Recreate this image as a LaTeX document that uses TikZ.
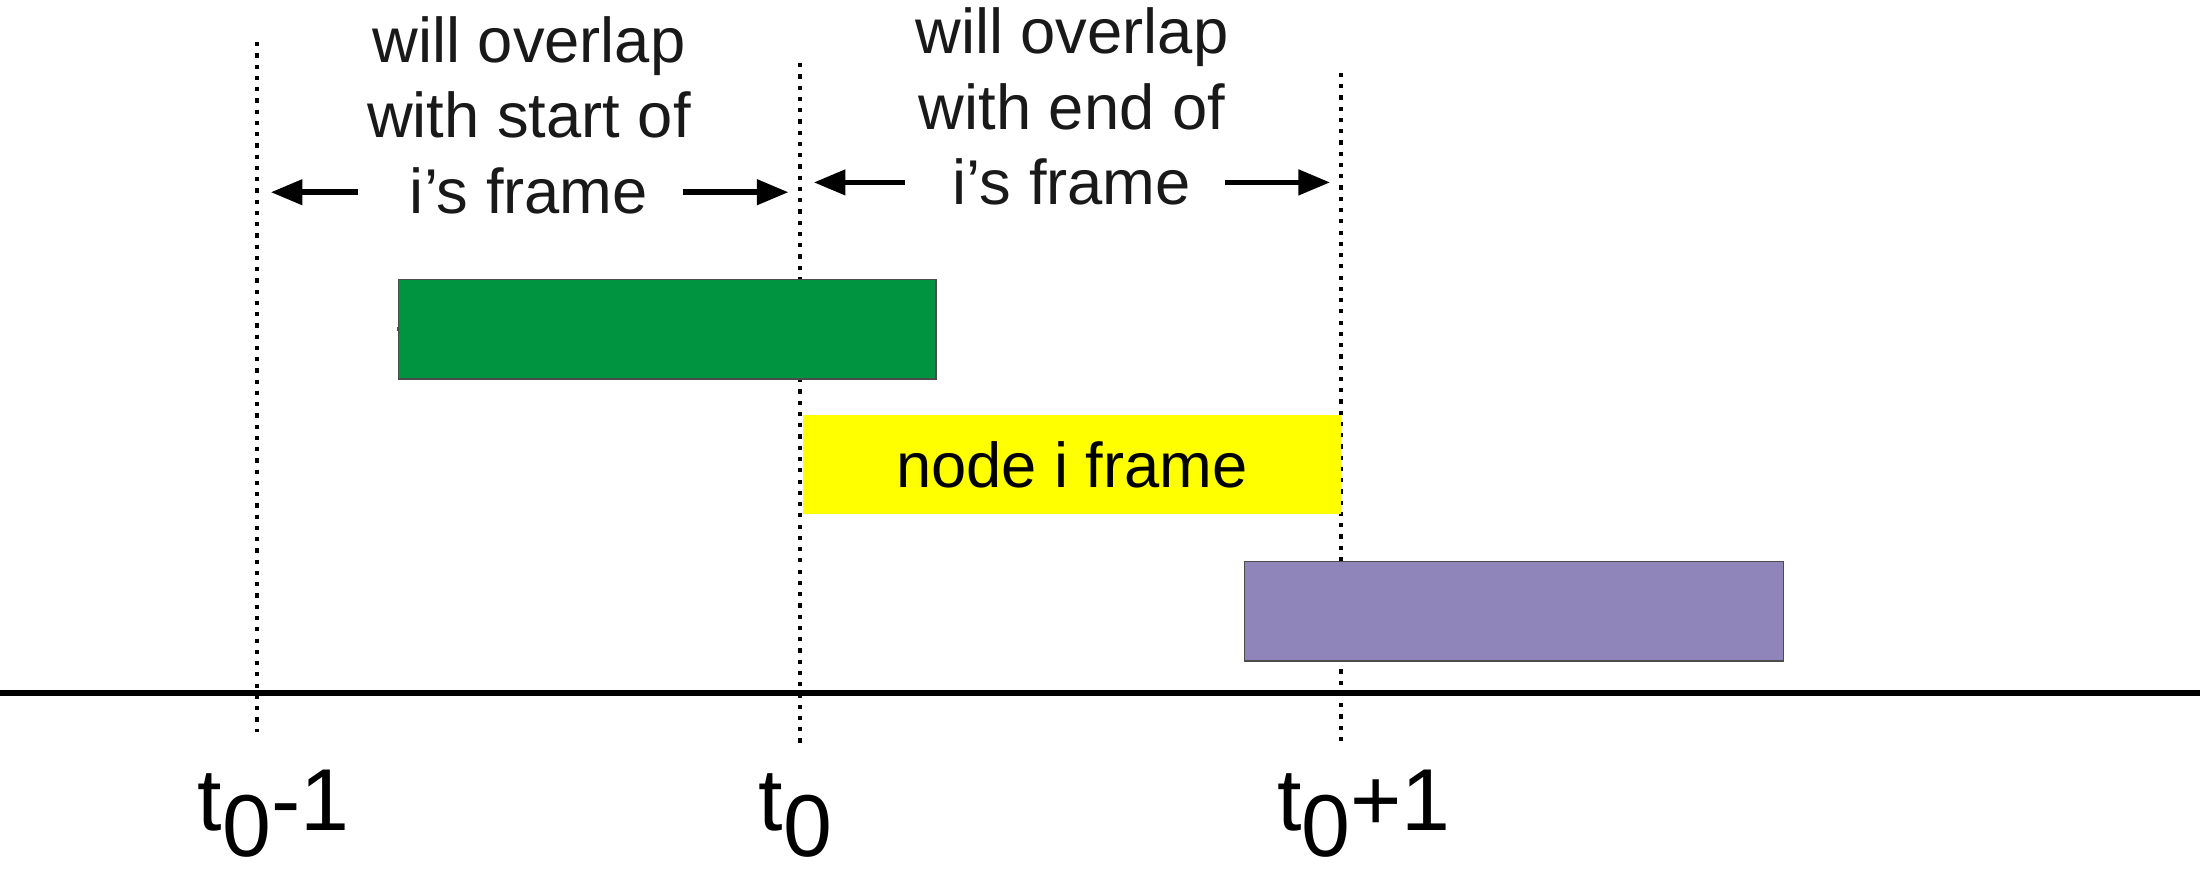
\documentclass[tikz,border=0pt]{standalone}
\usepackage{fontspec}
\setmainfont{Liberation Sans}
\usetikzlibrary{arrows.meta}
\definecolor{gr}{HTML}{009440}
\definecolor{ye}{HTML}{FFFF00}
\definecolor{pu}{HTML}{9085BA}
\begin{document}
\begin{tikzpicture}[x=0.01403cm,y=-0.01403cm,
  dot/.style={line width=1.2pt,dotted},
  bar/.style={draw=black!70,line width=0.4pt},
  lab/.style={font=\fontsize{18}{21.5}\selectfont,align=center,text=black!90},
  tl/.style={font=\fontsize{25}{28}\selectfont,anchor=base},
  arr/.style={-{Triangle[length=9pt,width=7pt]},line width=1.6pt}]
\useasboundingbox (0,0) rectangle (1568,635);
\draw[line width=1.6pt] (0,494) -- (1568,494);
\coordinate (a1) at (183,30); \coordinate (a2) at (183,522);
\coordinate (b1) at (570,45); \coordinate (b2) at (570,530);
\coordinate (c1) at (956,52); \coordinate (c2) at (956,530);
\draw[dot] (a1) -- (a2);
\draw[dot] (b1) -- (b2);
\draw[dot] (c1) -- (c2);
\node[bar,fill=gr,minimum width=383\pgflinewidth,inner sep=0] (g) at (475.5,234.5) {};
\fill[gr] (284,199) rectangle (667,270); \draw[black!70,line width=0.4pt] (284,199) rectangle (667,270);
\fill[ye] (572,296) rectangle (956,366);
\node[font=\fontsize{18}{20}\selectfont] (y) at (764,331) {node i frame};
\fill[pu] (887,400) rectangle (1271,471); \draw[black!70,line width=0.4pt] (887,400) rectangle (1271,471);
\node[lab] (l1) at (377,82) {will overlap\\with start of\\i’s frame};
\node[lab] (l2) at (764,76) {will overlap\\with end of\\i’s frame};
\coordinate (p1) at (255,137); \coordinate (p2) at (193,137);
\coordinate (p3) at (487,137); \coordinate (p4) at (562,137);
\coordinate (p5) at (645,130); \coordinate (p6) at (580,130);
\coordinate (p7) at (873,130); \coordinate (p8) at (948,130);
\draw[arr] (p1) -- (p2); \draw[arr] (p3) -- (p4);
\draw[arr] (p5) -- (p6); \draw[arr] (p7) -- (p8);
\node[tl] (t1) at (195,592) {t\raisebox{-0.55ex}{0}-1};
\node[tl] (t2) at (567,592) {t\raisebox{-0.55ex}{0}};
\node[tl] (t3) at (972,592) {t\raisebox{-0.55ex}{0}+1};
\end{tikzpicture}
\end{document}
